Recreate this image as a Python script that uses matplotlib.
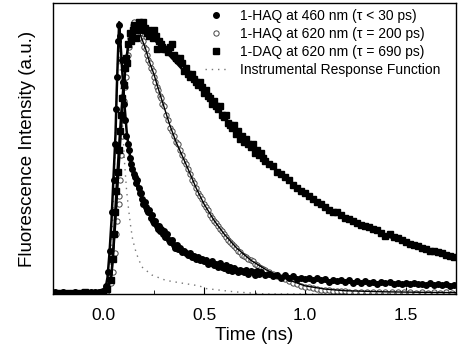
import matplotlib
matplotlib.use("Agg")
import matplotlib.pyplot as plt
from matplotlib.ticker import MultipleLocator

plt.rcParams['font.family'] = ['Liberation Sans', 'DejaVu Sans']

# 1-HAQ at 460 nm (filled circles)
haq460_t = [-0.24, -0.22, -0.20, -0.18, -0.16, -0.14, -0.12, -0.10, -0.08, -0.06,
            -0.04, -0.02, 0.00, 0.012, 0.022, 0.032, 0.042, 0.050, 0.056, 0.062,
            0.068, 0.074, 0.078, 0.084, 0.090, 0.096, 0.102, 0.108, 0.114, 0.120,
            0.126, 0.132, 0.138, 0.144, 0.150, 0.156, 0.162, 0.168, 0.174, 0.180,
            0.186, 0.192, 0.198, 0.204, 0.210, 0.216, 0.222, 0.228, 0.234, 0.240,
            0.246, 0.252, 0.258, 0.264, 0.270, 0.276, 0.282, 0.288, 0.294, 0.300,
            0.308, 0.316, 0.324, 0.332, 0.340, 0.348, 0.356, 0.364, 0.372, 0.380,
            0.39, 0.40, 0.41, 0.42, 0.43, 0.44, 0.45, 0.46, 0.47, 0.48,
            0.49, 0.50, 0.51, 0.52, 0.53, 0.54, 0.55, 0.56, 0.57, 0.58,
            0.59, 0.60, 0.61, 0.62, 0.63, 0.64, 0.65, 0.66, 0.67, 0.68,
            0.69, 0.70, 0.71, 0.72, 0.73, 0.74, 0.75, 0.76, 0.77, 0.78,
            0.80, 0.82, 0.84, 0.86, 0.88, 0.90, 0.92, 0.94, 0.96, 0.98,
            1.00, 1.02, 1.04, 1.06, 1.08, 1.10, 1.12, 1.14, 1.16, 1.18,
            1.20, 1.22, 1.24, 1.26, 1.28, 1.30, 1.32, 1.34, 1.36, 1.38,
            1.40, 1.42, 1.44, 1.46, 1.48, 1.50, 1.52, 1.54, 1.56, 1.58,
            1.60, 1.62, 1.64, 1.66, 1.68, 1.70, 1.72, 1.74]
haq460_y = [.006, .004, .007, .005, .004, .006, .005, .007, .005, .006,
            .007, .008, .012, .03, .08, .16, .30, .42, .55, .68,
            .80, .93, .99, .95, .86, .78, .70, .64, .58, .55,
            .53, .50, .48, .46, .44, .43, .41, .42, .39, .37,
            .37, .35, .33, .34, .32, .31, .30, .31, .28, .29,
            .27, .26, .27, .25, .24, .25, .23, .24, .22, .23,
            .21, .22, .20, .19, .20, .18, .17, .18, .165, .17,
            .155, .16, .15, .145, .15, .135, .14, .13, .135, .125,
            .13, .12, .125, .11, .115, .12, .105, .11, .10, .115,
            .10, .095, .105, .09, .10, .085, .095, .09, .08, .09,
            .085, .08, .09, .075, .085, .08, .07, .085, .075, .08,
            .07, .075, .065, .07, .06, .07, .06, .065, .055, .06,
            .055, .06, .05, .058, .05, .055, .045, .053, .048, .05,
            .045, .05, .042, .048, .04, .046, .042, .045, .038, .044,
            .04, .043, .037, .042, .036, .041, .035, .04, .036, .038,
            .034, .039, .033, .037, .032, .036, .031, .034]

# 1-HAQ at 620 nm (open circles)
haq620_t = [-0.24, -0.20, -0.16, -0.12, -0.08, -0.04, 0.00, 0.02, 0.035, 0.045,
            0.055, 0.062, 0.069, 0.075, 0.079, 0.084, 0.089, 0.094, 0.099, 0.104,
            0.109, 0.114, 0.119, 0.124, 0.129, 0.134, 0.139, 0.146, 0.153, 0.160,
            0.167, 0.174, 0.181, 0.188, 0.195, 0.202, 0.209, 0.216, 0.223, 0.230,
            0.237, 0.244, 0.251, 0.258, 0.265, 0.272, 0.279, 0.286, 0.293, 0.300,
            0.31, 0.32, 0.33, 0.34, 0.35, 0.36, 0.37, 0.38, 0.39, 0.40,
            0.41, 0.42, 0.43, 0.44, 0.45, 0.46, 0.47, 0.48, 0.49, 0.50,
            0.51, 0.52, 0.53, 0.54, 0.55, 0.56, 0.57, 0.58, 0.59, 0.60,
            0.61, 0.62, 0.63, 0.64, 0.65, 0.66, 0.67, 0.68, 0.69, 0.70,
            0.71, 0.72, 0.73, 0.74, 0.75, 0.76, 0.77, 0.78, 0.79, 0.80,
            0.82, 0.84, 0.86, 0.88, 0.90, 0.92, 0.94, 0.96, 0.98, 1.00,
            1.02, 1.04, 1.06, 1.08, 1.10, 1.12, 1.14, 1.16, 1.18, 1.20,
            1.22, 1.25, 1.28, 1.31, 1.34, 1.37, 1.40, 1.43, 1.46, 1.49,
            1.52, 1.55, 1.58, 1.61, 1.64, 1.67, 1.70, 1.73]
haq620_y = [.004, .003, .004, .003, .004, .004, .005, .01, .04, .08,
            .15, .22, .27, .33, .36, .42, .51, .58, .64, .71,
            .76, .80, .85, .88, .91, .94, .96, .99, 1.0, .98,
            .99, .97, .96, .94, .93, .91, .90, .88, .86, .85,
            .83, .82, .80, .78, .76, .75, .73, .72, .70, .69,
            .66, .64, .61, .60, .58, .56, .55, .53, .51, .49,
            .48, .46, .44, .42, .41, .39, .37, .36, .35, .33,
            .32, .31, .29, .28, .27, .26, .25, .24, .23, .22,
            .21, .20, .19, .185, .175, .17, .16, .155, .145, .14,
            .135, .13, .125, .12, .11, .105, .10, .095, .093, .09,
            .08, .072, .066, .062, .055, .048, .042, .036, .031, .027,
            .024, .021, .018, .016, .015, .013, .012, .011, .010, .010,
            .009, .008, .009, .007, .008, .007, .008, .006, .007, .006,
            .007, .005, .006, .005, .006, .005, .006, .005]

# 1-DAQ at 620 nm (filled squares)
daq_t = [-0.24, -0.21, -0.18, -0.15, -0.12, -0.09, -0.06, -0.03, 0.00, 0.02,
         0.035, 0.045, 0.052, 0.058, 0.064, 0.070, 0.076, 0.082, 0.088, 0.094,
         0.100, 0.106, 0.112, 0.118, 0.124, 0.130, 0.136, 0.142, 0.148, 0.154,
         0.160, 0.166, 0.172, 0.178, 0.184, 0.190, 0.196, 0.202, 0.208, 0.214,
         0.220, 0.228, 0.236, 0.244, 0.252, 0.260, 0.268, 0.276, 0.284, 0.292,
         0.300, 0.310, 0.320, 0.330, 0.340, 0.350, 0.360, 0.370, 0.380, 0.390,
         0.40, 0.41, 0.42, 0.43, 0.44, 0.45, 0.46, 0.47, 0.48, 0.49,
         0.50, 0.51, 0.52, 0.53, 0.54, 0.55, 0.56, 0.57, 0.58, 0.59,
         0.60, 0.61, 0.62, 0.63, 0.64, 0.65, 0.66, 0.67, 0.68, 0.69,
         0.70, 0.71, 0.72, 0.73, 0.74, 0.75, 0.76, 0.77, 0.78, 0.79,
         0.80, 0.82, 0.84, 0.86, 0.88, 0.90, 0.92, 0.94, 0.96, 0.98,
         1.00, 1.02, 1.04, 1.06, 1.08, 1.10, 1.12, 1.14, 1.16, 1.18,
         1.20, 1.22, 1.24, 1.26, 1.28, 1.30, 1.32, 1.34, 1.36, 1.38,
         1.40, 1.42, 1.44, 1.46, 1.48, 1.50, 1.52, 1.54, 1.56, 1.58,
         1.60, 1.62, 1.64, 1.66, 1.68, 1.70, 1.72, 1.74]
daq_y = [.004, .005, .003, .005, .004, .006, .004, .005, .008, .02,
         .05, .13, .22, .30, .38, .45, .53, .60, .66, .72,
         .77, .83, .87, .85, .92, .96, .93, .95, .97, .99,
         .94, .97, .98, 1.0, .99, .98, 1.0, .97, .98, .96,
         .97, .95, .96, .94, .97, .95, .90, .93, .92, .91,
         .90, .90, .89, .91, .92, .88, .87, .86, .87, .85,
         .82, .83, .81, .80, .81, .79, .78, .77, .78, .76,
         .74, .75, .73, .72, .70, .71, .69, .68, .69, .66,
         .65, .66, .63, .62, .61, .62, .59, .60, .57, .58,
         .56, .57, .55, .54, .55, .52, .53, .51, .52, .50,
         .49, .48, .47, .45, .44, .43, .42, .40, .39, .38,
         .37, .36, .35, .34, .33, .32, .31, .30, .30, .29,
         .28, .275, .27, .26, .255, .25, .245, .24, .235, .225,
         .215, .22, .21, .205, .20, .19, .185, .18, .175, .17,
         .165, .16, .158, .155, .15, .145, .14, .137]

# instrumental response function
irf_t = [-0.25, 0.0, 0.02, 0.04, 0.05, 0.06, 0.07, 0.076, 0.085, 0.095,
         0.105, 0.115, 0.125, 0.135, 0.145, 0.163, 0.19, 0.24, 0.31, 0.39,
         0.475, 0.51, 0.65, 0.80, 1.0, 1.2, 1.4, 1.6, 1.75]
irf_y = [0.0, 0.0, 0.02, 0.15, 0.35, 0.60, 0.85, 0.95, 0.80, 0.62,
         0.48, 0.38, 0.31, 0.25, 0.20, 0.15, 0.10, 0.07, 0.05, 0.04,
         0.03, 0.02, 0.008, 0.0, 0.0, 0.0, 0.0, 0.0, 0.0]

# fitted curves
fit460_t = [-0.25, 0.0, 0.01, 0.02, 0.03, 0.04, 0.05, 0.06, 0.066, 0.072,
            0.078, 0.085, 0.095, 0.105, 0.115, 0.125, 0.14, 0.16, 0.19, 0.22,
            0.26, 0.31, 0.36, 0.43, 0.50, 0.60, 0.70, 0.85, 1.0, 1.2,
            1.4, 1.6, 1.75]
fit460_y = [0.005, 0.006, 0.02, 0.06, 0.15, 0.27, 0.43, 0.59, 0.75, 0.88,
            1.0, 0.92, 0.80, 0.69, 0.60, 0.54, 0.47, 0.41, 0.35, 0.30,
            0.26, 0.21, 0.17, 0.145, 0.12, 0.10, 0.085, 0.067, 0.055, 0.047,
            0.04, 0.036, 0.033]
fit620_t = [-0.25, 0.0, 0.02, 0.04, 0.05, 0.06, 0.07, 0.08, 0.09, 0.10,
            0.11, 0.12, 0.13, 0.145, 0.16, 0.175, 0.19, 0.21, 0.23, 0.25,
            0.27, 0.30, 0.33, 0.36, 0.39, 0.42, 0.46, 0.50, 0.55, 0.60,
            0.66, 0.73, 0.81, 0.90, 1.0, 1.1, 1.2, 1.4, 1.6, 1.75]
fit620_y = [0.004, 0.004, 0.01, 0.06, 0.14, 0.25, 0.37, 0.49, 0.61, 0.72,
            0.82, 0.89, 0.94, 0.975, 0.98, 0.97, 0.94, 0.90, 0.85, 0.81,
            0.76, 0.69, 0.62, 0.56, 0.51, 0.46, 0.39, 0.33, 0.27, 0.22,
            0.17, 0.125, 0.088, 0.057, 0.03, 0.018, 0.012, 0.008, 0.006, 0.005]
fitdaq_t = [-0.25, 0.0, 0.02, 0.04, 0.05, 0.06, 0.07, 0.08, 0.09, 0.10,
            0.11, 0.12, 0.135, 0.15, 0.17, 0.19, 0.22, 0.26, 0.30, 0.35,
            0.40, 0.45, 0.50, 0.55, 0.60, 0.65, 0.70, 0.80, 0.90, 1.0,
            1.1, 1.2, 1.3, 1.4, 1.5, 1.6, 1.7, 1.75]
fitdaq_y = [0.005, 0.006, 0.015, 0.07, 0.18, 0.32, 0.45, 0.57, 0.68, 0.77,
            0.84, 0.90, 0.95, 0.975, 0.985, 0.975, 0.96, 0.93, 0.90, 0.86,
            0.82, 0.78, 0.74, 0.70, 0.65, 0.61, 0.575, 0.49, 0.43, 0.37,
            0.32, 0.28, 0.25, 0.215, 0.19, 0.165, 0.145, 0.137]

fig = plt.figure(figsize=(4.74, 3.5), dpi=100)
ax = fig.add_axes([0.112, 0.16, 0.850, 0.831])

ax.plot(irf_t, irf_y, color='#777777', linestyle=(0, (1, 3.5)), lw=1.0,
        label='Instrumental Response Function', zorder=1)
ax.plot(haq620_t, haq620_y, 'o', mfc='white', mec='#444444', mew=0.7, ms=3.8,
        label='1-HAQ at 620 nm (\u03c4 = 200 ps)', zorder=2)
ax.plot(haq460_t, haq460_y, 'o', color='black', ms=4.0,
        label='1-HAQ at 460 nm (\u03c4 < 30 ps)', zorder=3)
ax.plot(daq_t, daq_y, 's', color='black', ms=3.7,
        label='1-DAQ at 620 nm (\u03c4 = 690 ps)', zorder=3)

ax.plot(fit620_t, fit620_y, color='black', lw=1.0, zorder=4)
ax.plot(fit460_t, fit460_y, color='black', lw=1.8, zorder=4)
ax.plot(fitdaq_t, fitdaq_y, color='black', lw=1.8, zorder=4)

ax.set_xlim(-0.25, 1.75)
ax.set_ylim(0, 1.07)
ax.xaxis.set_major_locator(MultipleLocator(0.5))
ax.xaxis.set_minor_locator(MultipleLocator(0.25))
ax.set_yticks([])
ax.tick_params(axis='x', which='both', direction='in', labelsize=12.5, pad=10)
ax.tick_params(axis='x', which='major', length=5)
ax.tick_params(axis='x', which='minor', length=3)
ax.xaxis.set_major_formatter(matplotlib.ticker.FormatStrFormatter('%.1f'))
for s in ax.spines.values():
    s.set_linewidth(1.0)

ax.set_xlabel('Time (ns)', fontsize=13.5, labelpad=3)
ax.set_ylabel('Fluorescence Intensity (a.u.)', fontsize=13.5, labelpad=12)

h, l = ax.get_legend_handles_labels()
order = [2, 1, 3, 0]
ax.legend([h[i] for i in order], [l[i] for i in order], loc='upper right',
          bbox_to_anchor=(0.975, 1.0), frameon=False, fontsize=10,
          handlelength=1.6, handletextpad=0.9, labelspacing=0.3,
          borderaxespad=0.0, numpoints=1)

fig.savefig('out.png', dpi=100)
